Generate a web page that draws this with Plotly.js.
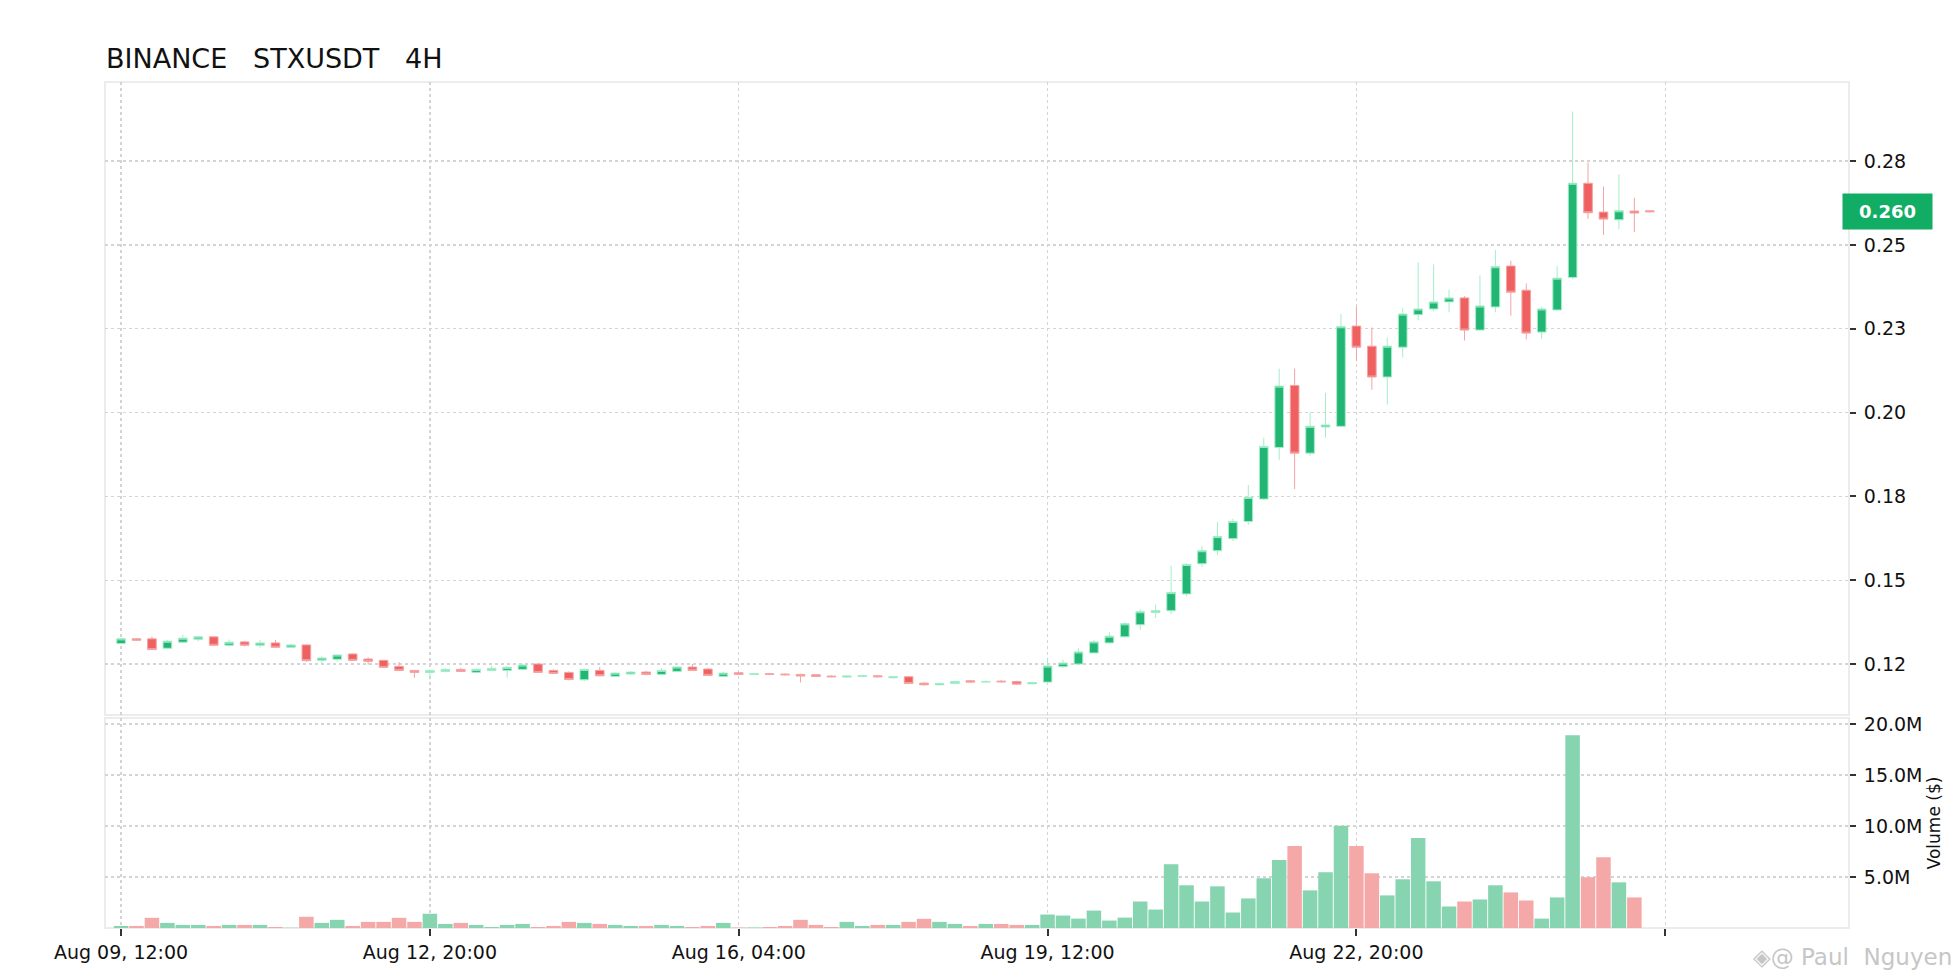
<!DOCTYPE html>
<html>
<head>
<meta charset="utf-8">
<script src="https://cdn.plot.ly/plotly-3.0.1.min.js"></script>
<style>
  html, body { margin: 0; padding: 0; background: #fff; }
  #chart { width: 1960px; height: 980px; }
</style>
</head>
<body>
<div id="chart"></div>
<script>
const chartTitle = 'BINANCE\u00a0\u00a0\u00a0STXUSDT\u00a0\u00a0\u00a04H';
const firstCandle = Date.UTC(2020, 7, 9, 12);   // Aug 09, 12:00
const candleHours = 4;

const openPrices = [
  0.1311, 0.1325, 0.1325, 0.1297, 0.1315, 0.1324, 0.1331, 0.1306, 0.1316, 0.1306,
  0.1313, 0.1300, 0.1307, 0.1261, 0.1264, 0.1280, 0.1265, 0.1261, 0.1243, 0.1231,
  0.1225, 0.1228, 0.1234, 0.1225, 0.1231, 0.1231, 0.1234, 0.1250, 0.1231, 0.1225,
  0.1203, 0.1231, 0.1213, 0.1220, 0.1226, 0.1219, 0.1228, 0.1241, 0.1235, 0.1213,
  0.1224, 0.1219, 0.1221, 0.1220, 0.1219, 0.1218, 0.1214, 0.1211, 0.1213, 0.1215,
  0.1209, 0.1212, 0.1193, 0.1188, 0.1192, 0.1200, 0.1196, 0.1199, 0.1198, 0.1191,
  0.1196, 0.1242, 0.1250, 0.1283, 0.1313, 0.1331, 0.1367, 0.1404, 0.1409, 0.1459,
  0.1549, 0.1588, 0.1624, 0.1675, 0.1742, 0.1896, 0.2081, 0.1879, 0.1957, 0.1959,
  0.2258, 0.2198, 0.2106, 0.2195, 0.2292, 0.2309, 0.2330, 0.2342, 0.2246, 0.2315,
  0.2437, 0.2365, 0.2240, 0.2306, 0.2403, 0.2684, 0.2598, 0.2575, 0.2601, 0.2602
];
const highPrices = [
  0.1327, 0.1327, 0.1332, 0.1322, 0.1338, 0.1334, 0.1332, 0.1323, 0.1319, 0.1322,
  0.1322, 0.1311, 0.1308, 0.1273, 0.1278, 0.1281, 0.1270, 0.1262, 0.1256, 0.1232,
  0.1233, 0.1238, 0.1238, 0.1237, 0.1245, 0.1243, 0.1251, 0.1251, 0.1234, 0.1228,
  0.1236, 0.1241, 0.1225, 0.1230, 0.1230, 0.1238, 0.1242, 0.1250, 0.1238, 0.1227,
  0.1226, 0.1223, 0.1223, 0.1222, 0.1221, 0.1220, 0.1216, 0.1216, 0.1217, 0.1217,
  0.1214, 0.1214, 0.1195, 0.1194, 0.1200, 0.1202, 0.1201, 0.1202, 0.1200, 0.1197,
  0.1269, 0.1263, 0.1297, 0.1322, 0.1345, 0.1376, 0.1413, 0.1428, 0.1543, 0.1551,
  0.1602, 0.1674, 0.1683, 0.1784, 0.1925, 0.2131, 0.2131, 0.2002, 0.2059, 0.2294,
  0.2316, 0.2254, 0.2224, 0.2311, 0.2448, 0.2442, 0.2367, 0.2347, 0.2409, 0.2485,
  0.2453, 0.2385, 0.2316, 0.2437, 0.2898, 0.2746, 0.2674, 0.2711, 0.2641, 0.2603
];
const lowPrices = [
  0.1310, 0.1319, 0.1292, 0.1295, 0.1314, 0.1318, 0.1304, 0.1302, 0.1302, 0.1299,
  0.1299, 0.1298, 0.1257, 0.1252, 0.1257, 0.1260, 0.1248, 0.1238, 0.1230, 0.1209,
  0.1204, 0.1225, 0.1226, 0.1222, 0.1230, 0.1210, 0.1232, 0.1224, 0.1220, 0.1201,
  0.1199, 0.1214, 0.1211, 0.1217, 0.1216, 0.1217, 0.1226, 0.1229, 0.1215, 0.1212,
  0.1217, 0.1217, 0.1217, 0.1216, 0.1195, 0.1211, 0.1210, 0.1209, 0.1211, 0.1210,
  0.1207, 0.1190, 0.1186, 0.1186, 0.1190, 0.1194, 0.1194, 0.1195, 0.1188, 0.1190,
  0.1194, 0.1239, 0.1249, 0.1283, 0.1311, 0.1329, 0.1352, 0.1387, 0.1399, 0.1452,
  0.1539, 0.1575, 0.1617, 0.1665, 0.1739, 0.1859, 0.1772, 0.1871, 0.1925, 0.1958,
  0.2154, 0.2068, 0.2024, 0.2164, 0.2275, 0.2302, 0.2299, 0.2215, 0.2245, 0.2299,
  0.2289, 0.2218, 0.2220, 0.2305, 0.2398, 0.2578, 0.2530, 0.2547, 0.2538, 0.2597
];
const closePrices = [
  0.1325, 0.1321, 0.1293, 0.1318, 0.1327, 0.1331, 0.1306, 0.1315, 0.1306, 0.1313,
  0.1300, 0.1307, 0.1260, 0.1268, 0.1277, 0.1261, 0.1258, 0.1240, 0.1231, 0.1225,
  0.1231, 0.1234, 0.1228, 0.1234, 0.1237, 0.1240, 0.1247, 0.1225, 0.1222, 0.1204,
  0.1234, 0.1215, 0.1223, 0.1226, 0.1219, 0.1231, 0.1241, 0.1231, 0.1216, 0.1223,
  0.1219, 0.1221, 0.1219, 0.1218, 0.1214, 0.1213, 0.1212, 0.1214, 0.1215, 0.1212,
  0.1212, 0.1192, 0.1188, 0.1192, 0.1198, 0.1196, 0.1198, 0.1197, 0.1190, 0.1195,
  0.1244, 0.1253, 0.1286, 0.1316, 0.1333, 0.1370, 0.1406, 0.1409, 0.1463, 0.1547,
  0.1588, 0.1630, 0.1675, 0.1747, 0.1899, 0.2079, 0.1879, 0.1959, 0.1963, 0.2256,
  0.2195, 0.2106, 0.2198, 0.2294, 0.2309, 0.2330, 0.2342, 0.2246, 0.2318, 0.2435,
  0.2359, 0.2237, 0.2309, 0.2401, 0.2684, 0.2596, 0.2577, 0.2602, 0.2595, 0.2599
];
// volume in millions of $
const volumes = [
  0.2, 0.2, 1.0, 0.5, 0.3, 0.3, 0.2, 0.3, 0.3, 0.3,
  0.1, 0.03, 1.1, 0.5, 0.8, 0.2, 0.6, 0.6, 1.0, 0.6,
  1.4, 0.4, 0.5, 0.3, 0.1, 0.3, 0.4, 0.1, 0.2, 0.6,
  0.5, 0.4, 0.3, 0.2, 0.2, 0.3, 0.2, 0.1, 0.2, 0.5,
  0.05, 0.05, 0.1, 0.2, 0.8, 0.3, 0.1, 0.6, 0.2, 0.3,
  0.3, 0.6, 0.9, 0.6, 0.4, 0.2, 0.4, 0.4, 0.3, 0.3,
  1.32, 1.22, 0.92, 1.71, 0.73, 1.02, 2.60, 1.81, 6.26, 4.19,
  2.60, 4.09, 1.52, 2.90, 4.88, 6.66, 8.04, 3.69, 5.47, 10.02,
  8.04, 5.37, 3.20, 4.78, 8.83, 4.58, 2.11, 2.60, 2.80, 4.19,
  3.49, 2.70, 0.92, 3.00, 18.92, 4.98, 6.95, 4.48, 3.00, 0
];

const dateTicks = ['2020-08-09 12:00', '2020-08-12 20:00', '2020-08-16 04:00',
                   '2020-08-19 12:00', '2020-08-22 20:00', '2020-08-26 04:00'];
const dateLabels = ['Aug 09, 12:00', 'Aug 12, 20:00', 'Aug 16, 04:00',
                    'Aug 19, 12:00', 'Aug 22, 20:00', ''];
const priceTicks = [0.125, 0.15, 0.175, 0.2, 0.225, 0.25, 0.275];
const priceLabels = ['0.12', '0.15', '0.18', '0.20', '0.23', '0.25', '0.28'];
const volumeTicks = [5, 10, 15, 20];
const volumeLabels = ['5.0M', '10.0M', '15.0M', '20.0M'];

const UP = '#22b573', DOWN = '#ef6060';
const UP_WICK = '#a3efca', DOWN_WICK = '#f5a3a3';
const UP_VOL = '#86d5b0', DOWN_VOL = '#f5a8a8';

const HOUR = 3600 * 1000;
function fmt(ms) {
    return new Date(ms).toISOString().slice(0, 19).replace('T', ' ');
}

let times = [];
for (let i = 0; i < openPrices.length; ++i) {
    times.push(fmt(firstCandle + i * candleHours * HOUR));
}
let volColors = closePrices.map((c, i) => c >= openPrices[i] ? UP_VOL : DOWN_VOL);

const lastTime = firstCandle + (openPrices.length - 1) * candleHours * HOUR;
const xRange = [fmt(firstCandle - 1.04 * candleHours * HOUR),
                fmt(lastTime + 12.9 * candleHours * HOUR)];
const lastClose = closePrices[closePrices.length - 1];

let candles = {
    type: 'candlestick',
    x: times,
    open: openPrices,
    high: highPrices,
    low: lowPrices,
    close: closePrices,
    xaxis: 'x',
    yaxis: 'y',
    increasing: {line: {color: UP_WICK, width: 1}, fillcolor: UP},
    decreasing: {line: {color: DOWN_WICK, width: 1}, fillcolor: DOWN},
    whiskerwidth: 0,
    hoverinfo: 'skip',
    showlegend: false,
};

let volume = {
    type: 'bar',
    x: times,
    y: volumes,
    xaxis: 'x',
    yaxis: 'y2',
    marker: {color: volColors, line: {width: 0}},
    hoverinfo: 'skip',
    showlegend: false,
};

const grid = {showgrid: true, gridcolor: '#d4d4d4', griddash: 'dot', gridwidth: 1.3, zeroline: false};
const frame = {color: '#ececec', width: 2};

let layout = {
    width: 1960,
    height: 980,
    margin: {l: 105, r: 111, t: 82, b: 52},
    paper_bgcolor: '#ffffff',
    plot_bgcolor: '#ffffff',
    font: {family: 'DejaVu Sans', size: 19, color: '#1a1a1a'},
    title: {
        text: chartTitle,
        xref: 'container', x: 106 / 1960, xanchor: 'left',
        yref: 'container', y: 1 - 59 / 980, yanchor: 'middle',
        font: {family: 'DejaVu Sans', size: 27, color: '#111'},
    },
    showlegend: false,
    bargap: 0.06,
    boxgap: 0.2,
    boxgroupgap: 0.3,
    xaxis: Object.assign({
        type: 'date',
        anchor: 'y2',
        range: xRange,
        tickvals: dateTicks,
        ticktext: dateLabels,
        ticks: 'outside', ticklen: 7, tickwidth: 2, tickcolor: '#333',
        tickfont: {size: 19, color: '#111'},
        rangeslider: {visible: false},
        showline: false,
    }, grid),
    yaxis: Object.assign({
        domain: [0.2518, 1],
        side: 'right',
        anchor: 'x',
        range: [0.1098, 0.2986],
        tickvals: priceTicks,
        ticktext: priceLabels,
        ticks: 'outside', ticklen: 6, tickwidth: 2, tickcolor: '#333',
        ticklabelstandoff: 4,
        tickfont: {size: 19, color: '#111'},
    }, grid),
    yaxis2: Object.assign({
        domain: [0, 0.2482],
        side: 'right',
        anchor: 'x',
        range: [0, 20.6],
        tickvals: volumeTicks,
        ticktext: volumeLabels,
        ticks: 'outside', ticklen: 6, tickwidth: 2, tickcolor: '#333',
        ticklabelstandoff: 4,
        tickfont: {size: 19, color: '#111'},
        title: {text: 'Volume ($)', font: {size: 17, color: '#111'}, standoff: 6},
    }, grid),
    shapes: [
        {type: 'rect', xref: 'x domain', yref: 'y domain', x0: 0, x1: 1, y0: 0, y1: 1, line: frame, layer: 'below'},
        {type: 'rect', xref: 'x domain', yref: 'y2 domain', x0: 0, x1: 1, y0: 0, y1: 1, line: frame, layer: 'below'},
    ],
    annotations: [
        {
            xref: 'paper', x: 0.996, xanchor: 'left',
            yref: 'y', y: lastClose, yanchor: 'middle',
            text: '<b>' + lastClose.toFixed(3) + '</b>',
            showarrow: false,
            bgcolor: '#12ad65',
            width: 89, height: 35, borderpad: 0,
            font: {family: 'DejaVu Sans', size: 18, color: '#ffffff'},
        },
        {
            xref: 'paper', x: 1.06, xanchor: 'right',
            yref: 'paper', y: -0.034, yanchor: 'middle',
            text: '\u25c8@\u00a0Paul\u00a0\u00a0Nguyen',
            showarrow: false,
            font: {family: 'DejaVu Sans', size: 23, color: '#c6c6c6'},
        },
    ],
};

Plotly.newPlot('chart', [candles, volume], layout, {displayModeBar: false, staticPlot: true});
</script>
</body>
</html>
